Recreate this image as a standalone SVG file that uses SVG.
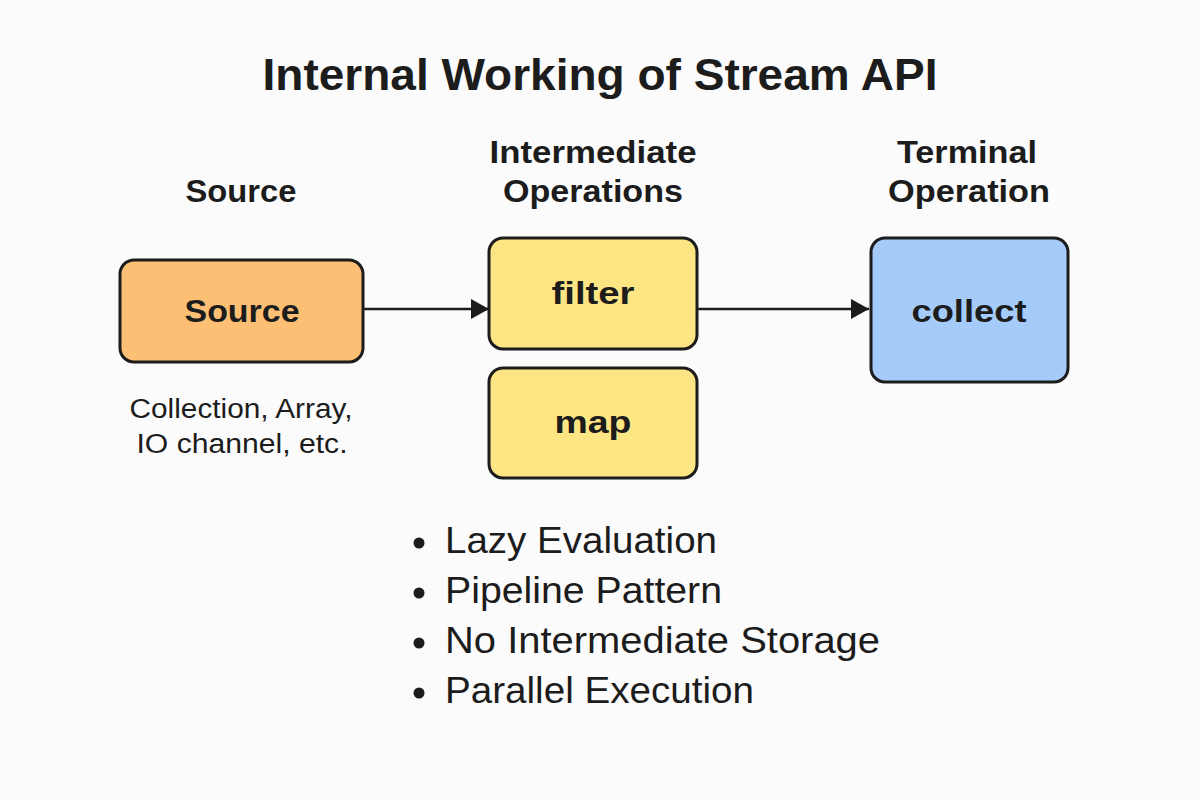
<svg xmlns="http://www.w3.org/2000/svg" width="1200" height="800" viewBox="0 0 1200 800">
<defs>
<style>
text{font-family:"Liberation Sans",Arial,sans-serif;fill:#1c1c1c}
.title{font-size:45px;font-weight:bold}
.hdr{font-size:31px;font-weight:bold}
.lbl{font-size:32px;font-weight:bold}
.sub{font-size:27px}
.bul{font-size:37px}
.box{stroke:#1c1c1c;stroke-width:3}
.conn{stroke:#1c1c1c;stroke-width:2.5;fill:none}
</style>
<marker id="arr" viewBox="0 0 18 20" refX="18" refY="10" markerWidth="18" markerHeight="20" markerUnits="userSpaceOnUse" orient="auto">
<path d="M0,0 L18,10 L0,20 z" fill="#1c1c1c"/>
</marker>
</defs>
<rect width="1200" height="800" fill="#fbfbfb"/>
<text class="title" x="600" y="90" text-anchor="middle" textLength="675" lengthAdjust="spacingAndGlyphs">Internal Working of Stream API</text>
<text class="hdr" x="241" y="202" text-anchor="middle" textLength="111" lengthAdjust="spacingAndGlyphs">Source</text>
<text class="hdr" x="593" y="163" text-anchor="middle" textLength="207" lengthAdjust="spacingAndGlyphs">Intermediate</text>
<text class="hdr" x="593" y="202" text-anchor="middle" textLength="180" lengthAdjust="spacingAndGlyphs">Operations</text>
<text class="hdr" x="967" y="163" text-anchor="middle" textLength="140" lengthAdjust="spacingAndGlyphs">Terminal</text>
<text class="hdr" x="969" y="202" text-anchor="middle" textLength="162" lengthAdjust="spacingAndGlyphs">Operation</text>
<g id="connectors">
<line class="conn" x1="364" y1="309" x2="489" y2="309" marker-end="url(#arr)"/>
<line class="conn" x1="698" y1="309" x2="869" y2="309" marker-end="url(#arr)"/>
</g>
<g id="source">
<rect class="box" x="120" y="260" width="243" height="102" rx="14" fill="#fdbf74"/>
<text class="lbl" x="242" y="322" text-anchor="middle" textLength="115" lengthAdjust="spacingAndGlyphs">Source</text>
</g>
<g id="filter">
<rect class="box" x="489" y="238" width="208" height="111" rx="14" fill="#fde583"/>
<text class="lbl" x="593" y="304" text-anchor="middle" textLength="83" lengthAdjust="spacingAndGlyphs">filter</text>
</g>
<g id="map">
<rect class="box" x="489" y="368" width="208" height="110" rx="14" fill="#fde583"/>
<text class="lbl" x="593" y="433" text-anchor="middle" textLength="77" lengthAdjust="spacingAndGlyphs">map</text>
</g>
<g id="collect">
<rect class="box" x="871" y="238" width="197" height="144" rx="14" fill="#a4cbfa"/>
<text class="lbl" x="969" y="322" text-anchor="middle" textLength="115" lengthAdjust="spacingAndGlyphs">collect</text>
</g>
<text class="sub" x="241" y="418" text-anchor="middle" textLength="223" lengthAdjust="spacingAndGlyphs">Collection, Array,</text>
<text class="sub" x="242" y="453" text-anchor="middle" textLength="211" lengthAdjust="spacingAndGlyphs">IO channel, etc.</text>
<g fill="#1c1c1c">
<circle cx="419" cy="543" r="5.5"/>
<circle cx="419" cy="593" r="5.5"/>
<circle cx="419" cy="643" r="5.5"/>
<circle cx="419" cy="693" r="5.5"/>
</g>
<text class="bul" x="445" y="553" textLength="272" lengthAdjust="spacingAndGlyphs">Lazy Evaluation</text>
<text class="bul" x="445" y="603" textLength="277" lengthAdjust="spacingAndGlyphs">Pipeline Pattern</text>
<text class="bul" x="445" y="653" textLength="435" lengthAdjust="spacingAndGlyphs">No Intermediate Storage</text>
<text class="bul" x="445" y="703" textLength="309" lengthAdjust="spacingAndGlyphs">Parallel Execution</text>
</svg>
